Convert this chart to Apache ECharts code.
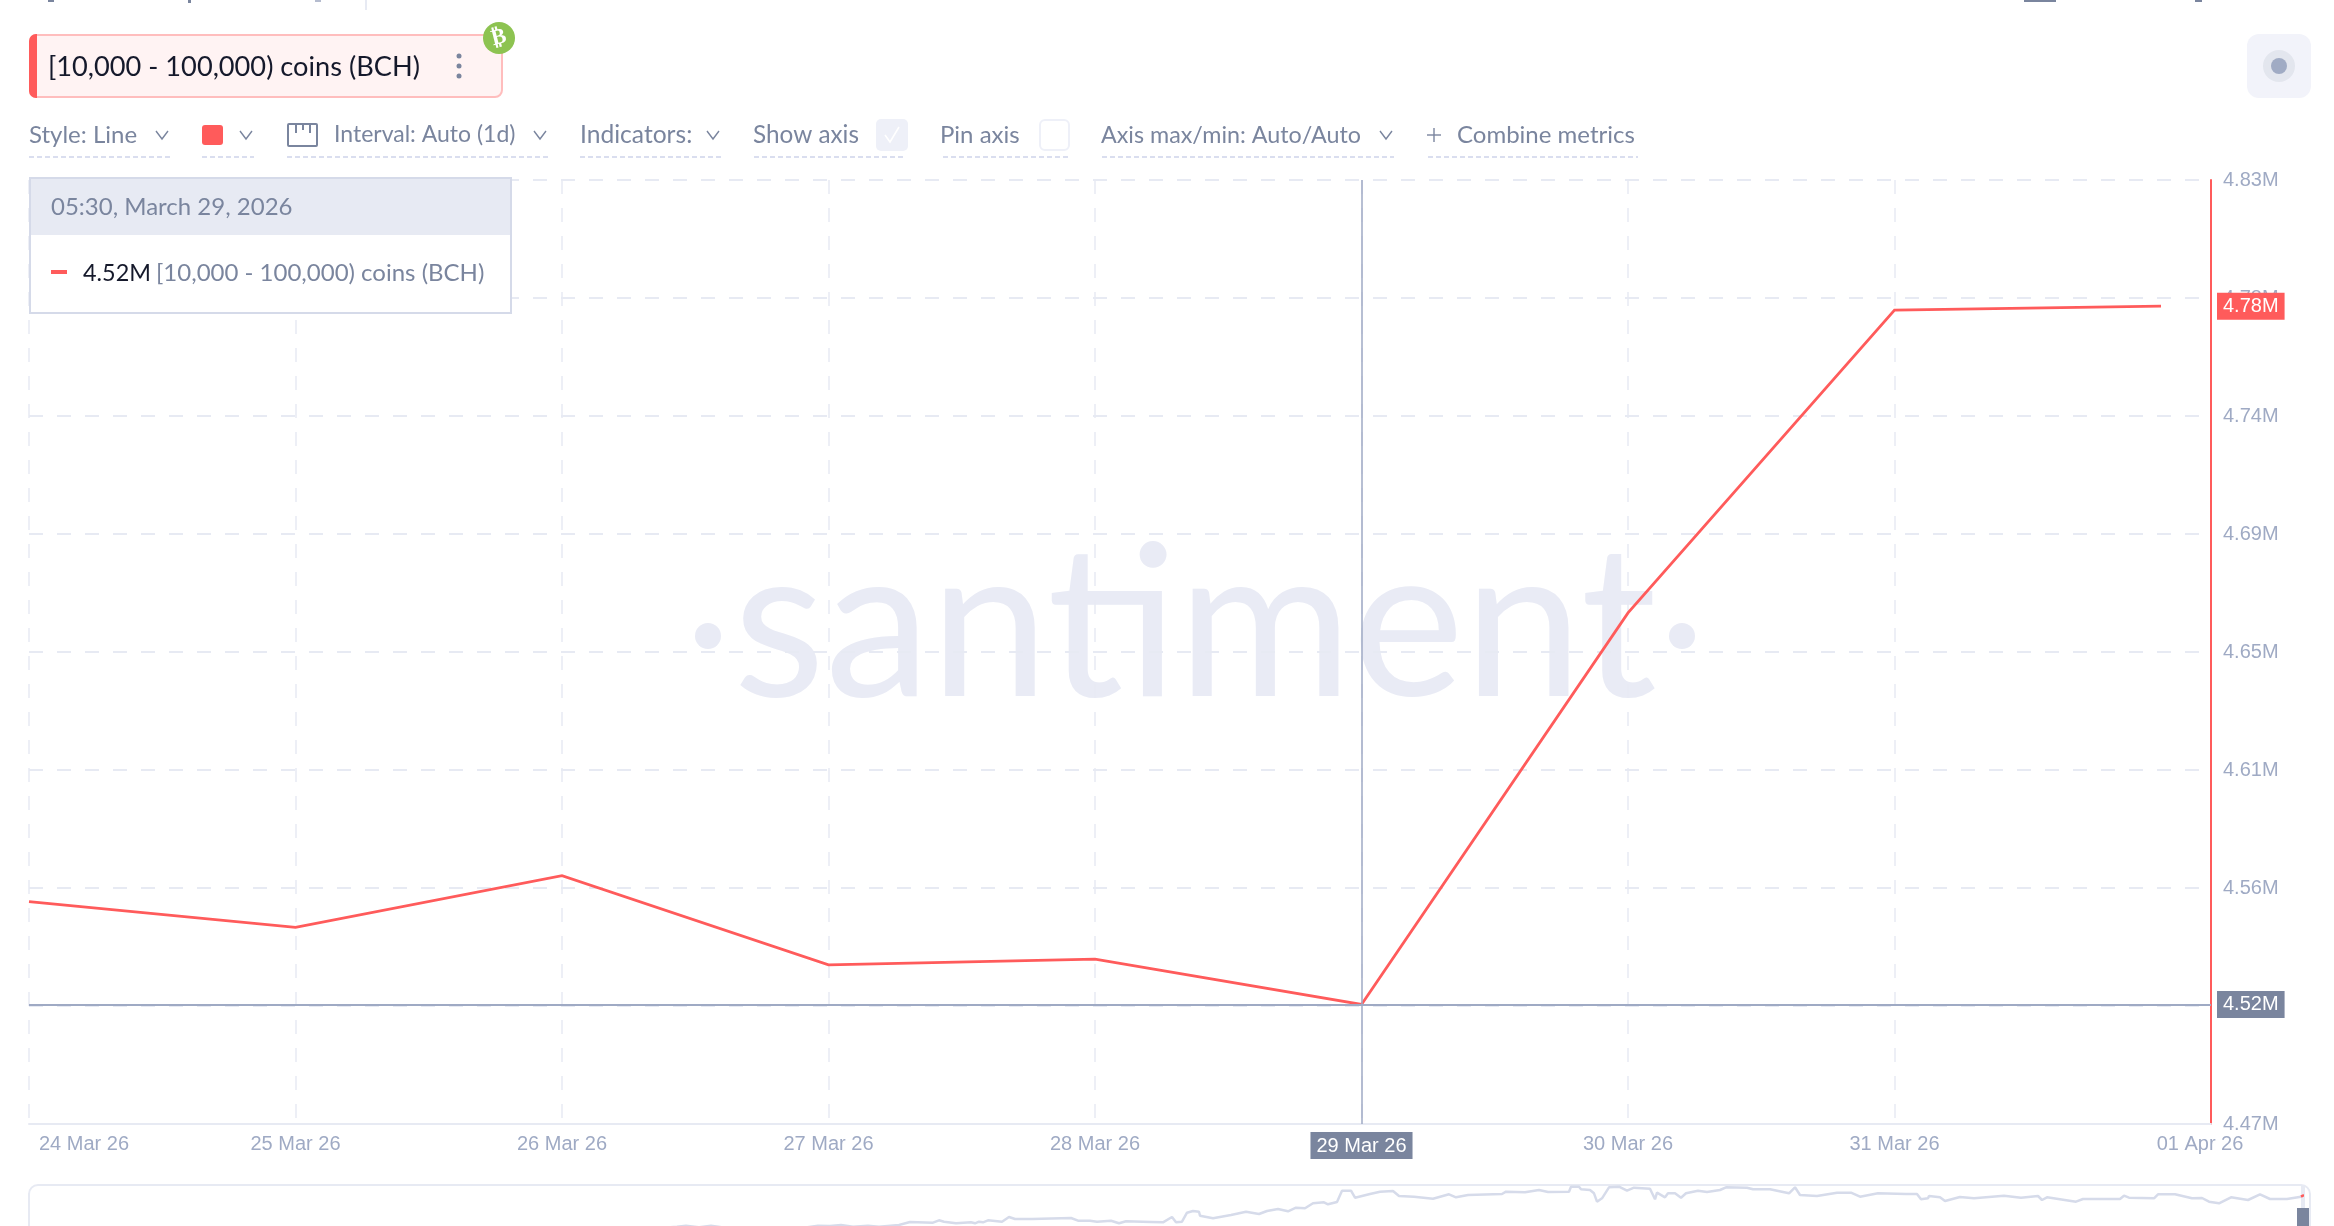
<!DOCTYPE html>
<html>
<head>
<meta charset="utf-8">
<style>html,body{margin:0;padding:0;background:#fff}#c{width:2334px;height:1226px}</style>
<script src="https://cdn.jsdelivr.net/npm/echarts@6/dist/echarts.min.js"></script>
</head>
<body>
<div id="c"></div>
<script>
const metricName = '[10,000 - 100,000) coins (BCH)';
const dateLabels = ['24 Mar 26','25 Mar 26','26 Mar 26','27 Mar 26','28 Mar 26','29 Mar 26','30 Mar 26','31 Mar 26','01 Apr 26'];
const holdings = [4.5548,4.5450,4.5647,4.5307,4.5329,4.5156,4.6649,4.7804,4.7819];
const yTicks = [4.47,4.515,4.56,4.605,4.65,4.695,4.74,4.785,4.83];
const yTickLabels = ['4.47M','4.52M','4.56M','4.61M','4.65M','4.69M','4.74M','4.78M','4.83M'];
const hoverIndex = 5;
const hoverTitle = '05:30, March 29, 2026';
const hoverValue = '4.52M';
const lastValueLabel = '4.78M';
const overviewTime = [620,648,657,670,682,693,778,789,801,812,824,839,850,870,881,904,910,915,927,942,946,950,954,959,973,980,986,1003,1042,1049,1061,1068,1082,1090,1097,1122,1134,1143,1147,1153,1158,1164,1170,
1171,1184,1202,1217,1230,1238,1249,1259,1267,1276,1284,1295,1299,1308,1313,1322,1326,1341,1351,1364,1370,1385,1404,1420,1427,1439,1473,1477,1496,1510,1519,1540,1542,1550,1552,1561,1565,1568,1573,1580,1590,1598,1605,1621,1626,1628,1636,1639,1646,1652,1657,1669,1678,1680,1691,1697,1718,1724,1741,1760,1766,1771,
1788,1808,1822,1831,1849,1877,1888,1892,1899,1900,1911,1916,1931,1945,1975,1992,2009,2013,2018,2047,2054,2091,2095,2100,2125,2129,2146,2163,2173,2180,2190,2202,2219,2231,2241,2258,2272];
const overviewLevel = [-3,-0.7,0.3,-1.3,0.3,-1.3,-1.3,0.3,0,1,-0.7,0.3,-0.7,1,4,3.3,5.7,4.3,2.7,3.7,2.7,4.3,3.7,5.7,4.3,9,7,7,8,5.3,5.3,4.3,5.3,2.7,4.7,4,3.7,9,3.7,4.3,13.3,15,14.3,
10.3,7.7,11,14.3,12,15,17,14.7,18.3,17.7,22.7,23.7,21.7,24,35.3,35.3,28.3,32,34.3,35,30,29.3,27.3,31.7,28.7,31,32,34.3,33.7,36,34,34.3,39.3,39.3,36.7,36,32.7,24.3,27.7,38.7,39.3,35.3,38.3,37.3,26.7,33.3,28.7,32.7,32.7,28.3,32.7,35.3,34,36,36,38.7,38.3,36.7,36.7,32.7,38.7,31,
30,33.3,33.3,29.3,32.7,32,32,26.7,27.7,30,28.7,25,29,27.7,30.3,28.3,30,26,28.7,24.3,27,27,30.3,28.3,27.7,31.7,31.7,27.7,28,24.3,22.7,28.7,26,31.7,27,27,29.3];
const overviewTailTime = [2272,2275];
const overviewTailLevel = [29.3,31];
const toolbarLabels = ['Style: Line','Interval: Auto (1d)','Indicators:','Show axis','Pin axis','Axis max/min: Auto/Auto','Combine metrics'];

const RED='#FF5B5B', GREY='#7A859E', SOFT='#9FAAC4', GRID='#E7EAF3', INK='#15192B';
const AXIS_FONT='"Liberation Sans", Arial, sans-serif', UI_FONT='Lato, "Noto Sans", sans-serif';

const g=[];
const rect=(x,y,w,h,fill,r,z,stroke,lw)=>g.push({type:'rect',z:z||10,silent:true,shape:{x,y,width:w,height:h,r:r||0},style:{fill:fill||'transparent',stroke:stroke||null,lineWidth:lw||0}});
const circle=(cx,cy,r,fill,z)=>g.push({type:'circle',z:z||10,silent:true,shape:{cx,cy,r},style:{fill}});
const text=(x,y,t,size,fill,z)=>g.push({type:'text',z:z||10,silent:true,x,y,style:{text:t,font:`400 ${size}px ${UI_FONT}`,fill,verticalAlign:'middle',align:'left'}});
const poly=(pts,stroke,lw,z)=>g.push({type:'polyline',z:z||10,silent:true,shape:{points:pts},style:{stroke,lineWidth:lw,fill:null}});
const chevron=(cx,cy)=>poly([[cx-6,cy-4],[cx,cy+4],[cx+6,cy-4]],GREY,1.4);
const underline=(x1,x2)=>g.push({type:'line',z:10,silent:true,shape:{x1,y1:157,x2,y2:157},style:{stroke:'#DADEEF',lineWidth:2,lineDash:[5,3]}});

// clipped fragments of the row above
rect(48,0,6,2,GREY);rect(188,0,3,3,GREY);rect(315,0,6,2,'#B5BCCF');rect(365,0,2,10,GRID);rect(2024,0,32,2,GREY);rect(2195,0,7,2,GREY);

// metric chip
rect(30,35,472,62,'#FFF3F3',7,10,'#FFBDBD',2);
g.push({type:'rect',z:11,silent:true,shape:{x:29,y:34,width:8,height:64,r:[7,0,0,7]},style:{fill:RED}});
text(48,67,metricName,27.2,INK,12);
circle(459,56,2.5,GREY,12);circle(459,66,2.5,GREY,12);circle(459,76,2.5,GREY,12);
circle(499,38,16,'#8DC351',13);
g.push({type:'text',z:14,silent:true,x:499,y:38,rotation:0.25,style:{text:'\u20BF',font:'700 22px "DejaVu Sans"',fill:'#fff',align:'center',verticalAlign:'middle'}});

// toolbar
text(29,135,toolbarLabels[0],24,GREY);chevron(162,135);underline(29,170);
rect(202,125,21,20,RED,3);chevron(246,135);underline(202,254);
rect(288,124,29,22,null,1,10,GREY,2);poly([[296,124],[296,133]],GREY,2);poly([[303,124],[303,130]],GREY,2);poly([[310,124],[310,133]],GREY,2);
text(334,135,toolbarLabels[1],23,GREY);chevron(540,135);underline(287,548);
text(580,135,toolbarLabels[2],24.6,GREY);chevron(713,135);underline(580,721);
text(753,135,toolbarLabels[3],24.3,GREY);rect(876,119,32,32,'#EEF0F8',5);poly([[885,135],[890,142],[899,127]],'#fff',1.6);underline(754,906);
text(940,135,toolbarLabels[4],24,GREY);rect(1040,120,29,30,'#fff',5,10,'#EEF0F8',2);underline(943,1068);
text(1101,135,toolbarLabels[5],23.3,GREY);chevron(1386,135);underline(1102,1394);
poly([[1427,135],[1441,135]],GREY,1.4);poly([[1434,128],[1434,142]],GREY,1.4);
text(1457,135,toolbarLabels[6],24,GREY);underline(1428,1638);

// record button
rect(2247,34,64,64,'#F2F3FA',12);circle(2279,66,16,'#E3E6EE');circle(2279,66,8,'#A0ABC4');

// watermark
g.push({type:'text',z:-1,silent:true,x:1195,y:522,style:{text:'santiment',font:'400 212px Lato, "Open Sans", sans-serif',fill:'#E9EBF5',align:'center',verticalAlign:'top'}});
circle(708,636,13,'#E9EBF5',-1);circle(1682,636,13,'#E9EBF5',-1);

// hover card
rect(30,178,481,135,'#fff',0,100,'#D5DAE9',2);
rect(31,179,479,56,GRID,0,101);
text(51,207,hoverTitle,24,GREY,102);
rect(51,270,16,4,RED,0,102);
text(83,273,hoverValue,23.4,INK,102);
text(156,273,metricName,24,GREY,102);

// overview frame
rect(29,1185,2281,80,'transparent',9,3,'#E7EAF3',2);
rect(2301,1186,4,23,GRID,0,4);
rect(2297,1208,12,18,GREY,0,6);

const gridIndices = dateLabels.slice(0,-1).map((_,i)=>i);
const flagLabel=(bg,t,pos,distance)=>({show:true,position:pos,distance,formatter:()=>t,backgroundColor:bg,color:'#fff',fontSize:20,fontFamily:AXIS_FONT,padding:[4,6,3,6]});
const chart=echarts.init(document.getElementById('c'),null,{renderer:'canvas'});
chart.setOption({
  animation:false,
  backgroundColor:'#fff',
  graphic:{elements:g},
  grid:[
    {left:29,right:123,top:180,bottom:102,containLabel:false},
    {left:29,right:32,top:1186,bottom:0}
  ],
  xAxis:[{
    type:'value',gridIndex:0,min:0,max:8.1876,
    axisLine:{show:true,lineStyle:{color:GRID,width:2}},
    axisTick:{show:false,customValues:gridIndices},
    splitLine:{show:true,lineStyle:{color:GRID,width:1.5,type:[14,14]}},
    axisLabel:{
      customValues:dateLabels.map((_,i)=>i),
      color:SOFT,fontSize:20,fontFamily:AXIS_FONT,margin:10,hideOverlap:false,alignMinLabel:'left',
      formatter:v=>{const i=Math.round(v);return i===0?`{first|${dateLabels[i]}}`:i===dateLabels.length-1?`{last|${dateLabels[i]}}`:dateLabels[i];},
      rich:{first:{padding:[0,0,0,10],color:SOFT,fontSize:20,fontFamily:AXIS_FONT},last:{padding:[0,0,0,78],color:SOFT,fontSize:20,fontFamily:AXIS_FONT}}
    },
    axisPointer:{show:false}
  },{type:'value',gridIndex:1,min:0,max:2273,show:false}],
  yAxis:[{
    type:'value',gridIndex:0,position:'right',min:yTicks[0],max:yTicks[yTicks.length-1],scale:true,
    axisLine:{show:true,onZero:false,lineStyle:{color:RED,width:2}},
    axisTick:{show:false,customValues:yTicks},
    splitLine:{show:true,lineStyle:{color:GRID,width:2,type:[14,14]}},
    axisLabel:{customValues:yTicks,color:SOFT,fontSize:20,fontFamily:AXIS_FONT,margin:12,
      formatter:v=>{let b=0;yTicks.forEach((t,i)=>{if(Math.abs(t-v)<Math.abs(yTicks[b]-v))b=i;});return yTickLabels[b];}},
    axisPointer:{show:false}
  },{type:'value',gridIndex:1,min:0,max:40,show:false}],
  series:[{
    type:'line',xAxisIndex:0,yAxisIndex:0,z:5,symbol:'none',silent:true,
    data:holdings.map((v,i)=>[i,v]),
    lineStyle:{color:RED,width:2.8,join:'miter'},
    markLine:{silent:true,symbol:'none',animation:false,z:20,precision:6,
      data:[
        {yAxis:holdings[holdings.length-1],lineStyle:{color:'transparent',width:0,type:'solid'},label:flagLabel(RED,lastValueLabel,'end',6)},
        {yAxis:holdings[hoverIndex],lineStyle:{color:SOFT,width:2,type:'solid'},label:flagLabel(GREY,hoverValue,'end',6)},
        {xAxis:hoverIndex,lineStyle:{color:SOFT,width:1.5,type:'solid'},label:flagLabel(GREY,dateLabels[hoverIndex],'start',8)}
      ]}
  },{
    type:'line',xAxisIndex:1,yAxisIndex:1,z:5,symbol:'none',silent:true,
    data:overviewTime.map((t,i)=>[t,overviewLevel[i]]),
    lineStyle:{color:'#D6DBEA',width:2.5}
  },{
    type:'line',xAxisIndex:1,yAxisIndex:1,z:6,symbol:'none',silent:true,
    data:overviewTailTime.map((t,i)=>[t,overviewTailLevel[i]]),
    lineStyle:{color:RED,width:2.5}
  }]
});
</script>
</body>
</html>
